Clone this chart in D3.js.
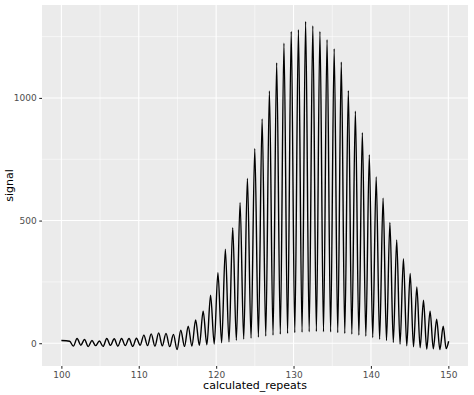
<!DOCTYPE html>
<html>
<head>
<meta charset="utf-8">
<script src="https://cdn.jsdelivr.net/npm/d3@7"></script>
<style>
  body { margin: 0; background: #fff; }
  text { font-family: "DejaVu Sans", sans-serif; }
</style>
</head>
<body>
<svg id="chart" width="474" height="395"></svg>
<script>
// trace: alternating troughs and peaks
var repeats = [
  100.00, 101.07, 101.55, 102.03, 102.51, 102.99, 103.47, 103.95, 104.43, 104.91,
  105.39, 105.87, 106.35, 106.83, 107.30, 107.78, 108.26, 108.74, 109.22, 109.70,
  110.18, 110.66, 111.13, 111.61, 112.09, 112.57, 113.04, 113.52, 114.00, 114.48,
  114.95, 115.43, 115.91, 116.39, 116.87, 117.35, 117.83, 118.32, 118.80, 119.28,
  119.75, 120.23, 120.71, 121.19, 121.66, 122.14, 122.61, 123.09, 123.56, 124.04,
  124.51, 124.99, 125.46, 125.94, 126.41, 126.88, 127.35, 127.82, 128.29, 128.76,
  129.23, 129.70, 130.16, 130.63, 131.10, 131.56, 132.02, 132.49, 132.95, 133.41,
  133.87, 134.33, 134.79, 135.25, 135.71, 136.17, 136.62, 137.08, 137.53, 137.99,
  138.44, 138.89, 139.34, 139.79, 140.23, 140.68, 141.12, 141.57, 142.01, 142.45,
  142.89, 143.33, 143.76, 144.20, 144.63, 145.07, 145.50, 145.93, 146.36, 146.79,
  147.21, 147.64, 148.06, 148.49, 148.91, 149.34, 149.72, 150.04
];
var signal = [
  11, 8, -12, 19, -8, 15, -14, 11, -10, 9,
  -13, 19, -9, 18, -12, 19, -10, 19, -13, 20,
  -8, 33, -10, 38, -12, 42, -11, 40, -14, 36,
  -26, 53, -13, 69, -12, 95, -9, 131, -6, 196,
  -3, 287, 2, 383, 6, 471, 12, 573, 17, 672,
  21, 793, 25, 914, 29, 1028, 33, 1143, 37, 1223,
  40, 1271, 43, 1278, 45, 1312, 47, 1293, 48, 1271,
  47, 1237, 46, 1200, 43, 1146, 40, 1030, 37, 946,
  33, 858, 29, 768, 23, 678, 16, 591, 11, 492,
  3, 421, -4, 345, -11, 284, -15, 229, -19, 175,
  -24, 131, -23, 98, -26, 69, -22, 8
];
var xTicks = [100, 110, 120, 130, 140, 150];
var xMinor = [105, 115, 125, 135, 145];
var yTicks = [0, 500, 1000];
var yMinor = [250, 750, 1250];

var svg = d3.select('#chart');
var width = +svg.attr('width');
var height = +svg.attr('height');
var margin = { top: 5, right: 6, bottom: 29, left: 42 };
var pw = width - margin.left - margin.right;
var ph = height - margin.top - margin.bottom;

var data = repeats.map(function (r, i) { return { x: r, y: signal[i] }; });

// ggplot style 5% expansion on both axes
var xe = d3.extent(repeats), ye = d3.extent(signal);
var xp = (xe[1] - xe[0]) * 0.05, yp = (ye[1] - ye[0]) * 0.05;
var x = d3.scaleLinear().domain([xe[0] - xp, xe[1] + xp]).range([0, pw]);
var y = d3.scaleLinear().domain([ye[0] - yp, ye[1] + yp]).range([ph, 0]);

var g = svg.append('g').attr('transform', 'translate(' + margin.left + ',' + margin.top + ')');

g.append('rect').attr('width', pw).attr('height', ph).attr('fill', '#ebebeb');

// minor then major grid
g.selectAll('.xminor').data(xMinor).enter().append('line')
  .attr('x1', x).attr('x2', x).attr('y1', 0).attr('y2', ph)
  .attr('stroke', '#fff').attr('stroke-width', 0.55);
g.selectAll('.yminor').data(yMinor).enter().append('line')
  .attr('y1', y).attr('y2', y).attr('x1', 0).attr('x2', pw)
  .attr('stroke', '#fff').attr('stroke-width', 0.55);
g.selectAll('.xmajor').data(xTicks).enter().append('line')
  .attr('x1', x).attr('x2', x).attr('y1', 0).attr('y2', ph)
  .attr('stroke', '#fff').attr('stroke-width', 1.1);
g.selectAll('.ymajor').data(yTicks).enter().append('line')
  .attr('y1', y).attr('y2', y).attr('x1', 0).attr('x2', pw)
  .attr('stroke', '#fff').attr('stroke-width', 1.1);

// the trace
var line = d3.line()
  .x(function (d) { return x(d.x); })
  .y(function (d) { return y(d.y); })
  .curve(d3.curveMonotoneX);

g.append('path')
  .datum(data)
  .attr('fill', 'none')
  .attr('stroke', '#000')
  .attr('stroke-width', 1.4)
  .attr('stroke-linejoin', 'round')
  .attr('d', line);

// axes
var xAxis = g.append('g').attr('transform', 'translate(0,' + ph + ')')
  .call(d3.axisBottom(x).tickValues(xTicks).tickSize(2.75).tickPadding(2.5));
var yAxis = g.append('g')
  .call(d3.axisLeft(y).tickValues(yTicks).tickFormat(d3.format('d')).tickSize(2.75).tickPadding(2.5));
[xAxis, yAxis].forEach(function (a) {
  a.select('.domain').remove();
  a.selectAll('.tick line').attr('stroke', '#333').attr('stroke-width', 1.1);
  a.selectAll('.tick text').attr('fill', '#4d4d4d').style('font-size', '9px')
    .style('font-family', '"DejaVu Sans", sans-serif');
});

svg.append('text')
  .attr('x', margin.left + pw / 2).attr('y', height - 6)
  .attr('text-anchor', 'middle').attr('font-size', 11).attr('fill', '#000')
  .text('calculated_repeats');

svg.append('text')
  .attr('transform', 'translate(13,' + (margin.top + ph / 2) + ') rotate(-90)')
  .attr('text-anchor', 'middle').attr('font-size', 11).attr('fill', '#000')
  .text('signal');
</script>
</body>
</html>
